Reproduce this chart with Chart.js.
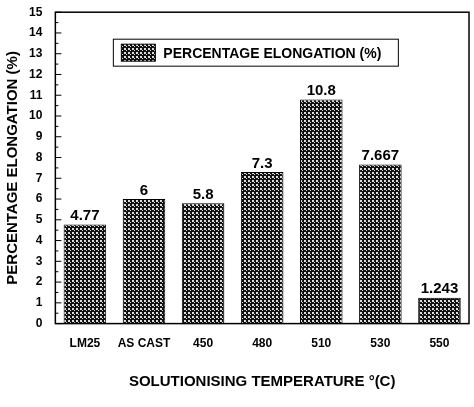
<!DOCTYPE html>
<html><head><meta charset="utf-8">
<script src="https://cdn.jsdelivr.net/npm/chart.js@4"></script>
<style>body{margin:0;background:#fff}#wrap{width:474px;height:407px}</style>
</head><body><div id="wrap"><canvas id="c"></canvas></div>
<script>
const categories = ['LM25', 'AS CAST', '450', '480', '510', '530', '550'];
const elongation = [4.77, 6, 5.8, 7.3, 10.8, 7.667, 1.243];
const valueLabels = ['4.77', '6', '5.8', '7.3', '10.8', '7.667', '1.243'];
const seriesName = 'PERCENTAGE ELONGATION (%)';

function makePattern() {
  const p = document.createElement('canvas');
  p.width = 4; p.height = 4;
  const g = p.getContext('2d');
  g.fillStyle = '#111'; g.fillRect(0, 0, 4, 4);
  g.fillStyle = '#ddd';
  g.fillRect(0, 0, 2, 2); g.fillRect(2, 2, 1, 1);
  return document.getElementById('c').getContext('2d').createPattern(p, 'repeat');
}
const pat = makePattern();
const F = 'Liberation Sans, Arial, sans-serif';

const extras = {
  id: 'extras',
  afterDatasetsDraw(chart) {
    const ctx = chart.ctx, meta = chart.getDatasetMeta(0), a = chart.chartArea;
    ctx.save();
    ctx.font = 'bold 15px ' + F; ctx.fillStyle = '#000';
    ctx.textAlign = 'center'; ctx.textBaseline = 'bottom';
    meta.data.forEach((b, i) => ctx.fillText(valueLabels[i], b.x, b.y - 1));
    // legend box
    const y = chart.scales.y;
    const lx = a.left + 58, ly = y.getPixelForValue(13.7), lw = 285, lh = y.getPixelForValue(12.4) - ly;
    ctx.fillStyle = '#fff'; ctx.fillRect(lx, ly, lw, lh);
    ctx.strokeStyle = '#000'; ctx.lineWidth = 1; ctx.strokeRect(lx, ly, lw, lh);
    ctx.fillStyle = pat; ctx.fillRect(lx + 8, ly + 5, 34, lh - 10);
    ctx.strokeRect(lx + 8, ly + 5, 34, lh - 10);
    ctx.fillStyle = '#000'; ctx.font = 'bold 14px ' + F;
    ctx.textAlign = 'left'; ctx.textBaseline = 'middle';
    ctx.fillText(seriesName, lx + 50, ly + lh / 2 + 1);
    // frame
    ctx.lineWidth = 1.5; ctx.strokeRect(a.left, a.top, a.right - a.left, a.bottom - a.top);
    // ticks on y
    ctx.lineWidth = 1;
    for (let v = 0.5; v < 15; v += 1) {
      const py = y.getPixelForValue(v);
      ctx.beginPath(); ctx.moveTo(a.left, py); ctx.lineTo(a.left + 3, py); ctx.stroke();
    }
    for (let v = 0; v <= 15; v += 1) {
      const py = y.getPixelForValue(v);
      ctx.beginPath(); ctx.moveTo(a.left, py); ctx.lineTo(a.left + 6, py); ctx.stroke();
    }
    ctx.restore();
  }
};

new Chart(document.getElementById('c'), {
  type: 'bar',
  data: { labels: categories, datasets: [{ label: seriesName, data: elongation,
    backgroundColor: pat, borderColor: '#000', borderWidth: 1, categoryPercentage: 1, barPercentage: 0.72 }] },
  options: {
    responsive: true, maintainAspectRatio: false, animation: false,
    layout: { padding: { top: 3, right: 5, left: 0, bottom: 12 } },
    plugins: { legend: { display: false }, tooltip: { enabled: false } },
    scales: {
      x: { grid: { display: false, drawTicks: true, tickLength: 5, color: '#000' }, border: { display: false },
        ticks: { color: '#000', font: { family: F, weight: 'bold', size: 12 }, padding: 8,
          maxRotation: 0, minRotation: 0, autoSkip: false },
        title: { display: true, text: 'SOLUTIONISING TEMPERATURE °(C)', color: '#000',
          font: { family: F, weight: 'bold', size: 15 }, padding: { top: 14 } } },
      y: { min: 0, max: 15, grid: { display: false }, border: { display: false },
        ticks: { stepSize: 1, color: '#000', font: { family: F, weight: 'bold', size: 12 }, padding: 5 },
        title: { display: true, text: 'PERCENTAGE ELONGATION (%)', color: '#000',
          font: { family: F, weight: 'bold', size: 15 }, padding: { bottom: 2 } } }
    }
  },
  plugins: [extras]
});
</script></body></html>
